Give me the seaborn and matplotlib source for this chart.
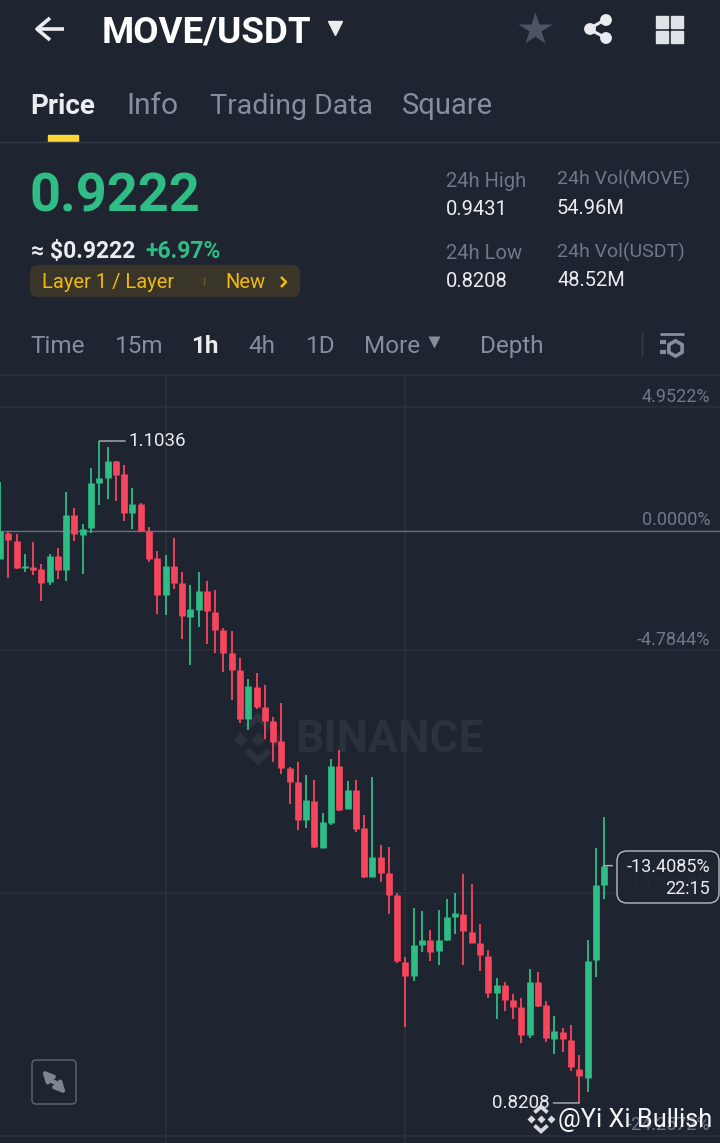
import pandas as pd
import numpy as np
import matplotlib
matplotlib.use("Agg")
import matplotlib.pyplot as plt
from matplotlib.patches import FancyBboxPatch, Rectangle, Circle
import seaborn as sns

# candles, oldest first
opens = [1.0532,1.0643,1.0609,1.0493,1.0498,1.0489,1.0434,1.0545,1.0485,1.0720,
         1.0635,1.0664,1.0857,1.0878,1.0951,1.0895,1.0729,1.0767,1.0652,1.0536,
         1.0378,1.0502,1.0429,1.0284,1.0314,1.0395,1.0305,1.0229,1.0130,1.0058,
         0.9848,0.9985,0.9900,0.9840,0.9754,0.9639,0.9579,0.9417,0.9498,0.9297,
         0.9404,0.9648,0.9464,0.9545,0.9383,0.9174,0.9259,0.9191,0.9097,0.8810,
         0.8751,0.8883,0.8904,0.8857,0.8904,0.9003,0.9015,0.8939,0.8892,0.8836,
         0.8678,0.8712,0.8648,0.8618,0.8498,0.8725,0.8627,0.8481,0.8511,0.8477,
         0.8353,0.8315,0.8819,0.9139]
highs = [1.0861,1.0652,1.0639,1.0553,1.0605,1.0510,1.0553,1.0579,1.0818,1.0750,
         1.0682,1.0921,1.1036,1.1011,1.0951,1.0934,1.0835,1.0771,1.0669,1.0566,
         1.0549,1.0622,1.0476,1.0421,1.0476,1.0438,1.0400,1.0237,1.0224,1.0109,
         1.0019,1.0045,0.9994,0.9857,0.9917,0.9643,0.9665,0.9609,0.9588,0.9447,
         0.9678,0.9716,0.9584,0.9588,0.9438,0.9601,0.9310,0.9302,0.9105,0.8832,
         0.9041,0.9028,0.8947,0.9033,0.9079,0.9105,0.9186,0.9144,0.8973,0.8862,
         0.8742,0.8725,0.8674,0.8657,0.8780,0.8768,0.8644,0.8580,0.8528,0.8541,
         0.8413,0.8904,0.9297,0.9431]
lows = [1.0532,1.0451,1.0489,1.0476,1.0463,1.0352,1.0421,1.0446,1.0438,1.0609,
        1.0468,1.0643,1.0763,1.0788,1.0780,1.0694,1.0660,1.0652,1.0519,1.0297,
        1.0293,1.0404,1.0190,1.0079,1.0241,1.0169,1.0130,1.0049,0.9930,0.9831,
        0.9801,0.9891,0.9763,0.9665,0.9613,0.9485,0.9374,0.9383,0.9297,0.9297,
        0.9396,0.9456,0.9464,0.9366,0.9169,0.9174,0.9152,0.9015,0.8806,0.8533,
        0.8729,0.8853,0.8815,0.8798,0.8900,0.8930,0.8798,0.8892,0.8772,0.8657,
        0.8567,0.8601,0.8567,0.8464,0.8486,0.8618,0.8468,0.8417,0.8426,0.8345,
        0.8208,0.8255,0.8746,0.9079]
closes = [1.0652,1.0613,1.0493,1.0502,1.0485,1.0429,1.0545,1.0485,1.0720,1.0639,
          1.0660,1.0857,1.0878,1.0951,1.0891,1.0729,1.0767,1.0652,1.0532,1.0378,
          1.0502,1.0429,1.0288,1.0318,1.0395,1.0310,1.0229,1.0130,1.0058,0.9848,
          0.9989,0.9900,0.9840,0.9750,0.9639,0.9579,0.9417,0.9503,0.9302,0.9408,
          0.9648,0.9460,0.9545,0.9379,0.9174,0.9259,0.9191,0.9097,0.8815,0.8751,
          0.8883,0.8904,0.8853,0.8904,0.9003,0.9020,0.8943,0.8892,0.8840,0.8678,
          0.8712,0.8648,0.8618,0.8498,0.8725,0.8622,0.8486,0.8515,0.8481,0.8362,
          0.8323,0.8815,0.9139,0.9222]

base_price = 1.0652
pct_levels = [4.9522, 0.0, -4.7844, -14.5208, -24.2572]
pct_labels = ["4.9522%", "0.0000%", "-4.7844%", "-14.5208%", "-24.2572%"]
time_grid = [20, 49]

BG = "#1f2530"
GREEN = "#2ebd85"
RED = "#f6465d"
GREY = "#848e9c"
DIM = "#6f7886"
WHITE = "#eaecef"
MARK = "#2c323d"

sns.set_theme(style="dark", rc={"lines.solid_capstyle": "butt", "axes.facecolor": BG, "figure.facecolor": BG})
plt.rcParams["font.family"] = ["Roboto", "DejaVu Sans"]

idx = np.arange(len(opens))
df = pd.DataFrame({"idx": idx, "open": opens, "high": highs, "low": lows, "close": closes})
df["side"] = np.where(df["close"] >= df["open"], "up", "down")
wicks = df.melt(id_vars=["idx", "side"], value_vars=["high", "low"], value_name="price")
bodies = df.melt(id_vars=["idx", "side"], value_vars=["open", "close"], value_name="price")
colors = {"up": GREEN, "down": RED}

fig = plt.figure(figsize=(7.2, 11.43), dpi=100)
ax = fig.add_axes([0, 0, 1, 768 / 1143])
ui = fig.add_axes([0, 0, 1, 1], zorder=5)
ui.set_xlim(0, 720)
ui.set_ylim(1143, 0)
ui.axis("off")
ui.patch.set_alpha(0)


def draw_logo(target, cx, cy, size, color, zorder):
    # two chevrons and three small diamonds, size is half the logo height
    s = size
    kw = dict(color=color, lw=s * 0.21, transform=ui.transData, zorder=zorder, clip_on=False, solid_joinstyle="miter")
    target.plot([cx - 0.5 * s, cx, cx + 0.5 * s], [cy - 0.5 * s, cy - s * 0.95, cy - 0.5 * s], **kw)
    target.plot([cx - 0.5 * s, cx, cx + 0.5 * s], [cy + 0.5 * s, cy + s * 0.95, cy + 0.5 * s], **kw)
    for dx in [-0.8 * s, 0, 0.8 * s]:
        target.plot(cx + dx, cy, marker="D", ms=s * 0.3, color=color, mec="none", transform=ui.transData,
                    zorder=zorder, clip_on=False)


# watermark goes under the candles
ax.text(389, 740, "BINANCE", color=MARK, fontsize=32, fontweight="bold", ha="center", va="center",
        transform=ui.transData, zorder=0)
draw_logo(ax, 258, 739, 23, MARK, 0)

for frame, lw in [(wicks, 1.3), (bodies, 4.8)]:
    sns.lineplot(data=frame, x="idx", y="price", units="idx", hue="side", palette=colors, estimator=None,
                 errorbar=None, lw=lw, legend=False, ax=ax, zorder=3)

ax.set_xlim(0, 720 / 8.275)
ax.set_ylim(0.8037, 1.1318)
ax.set_xticks(time_grid)
ax.set_yticks([base_price * (1 + p / 100) for p in pct_levels])
ax.tick_params(length=0, labelbottom=False, labelleft=False)
ax.set_xlabel("")
ax.set_ylabel("")
ax.grid(True, color="#2b313c", lw=1.2)
for name, spine in ax.spines.items():
    spine.set_visible(name == "top")
    spine.set_color("#2b313c")
ax.axhline(base_price, color="#686e78", lw=1, zorder=2)

for level, lab in zip(pct_levels, pct_labels):
    ax.annotate(lab, xy=(1, base_price * (1 + level / 100)), xycoords=ax.get_yaxis_transform(),
                xytext=(-7, 7.5), textcoords="offset points", ha="right", va="center",
                color=DIM, fontsize=13)

ax.annotate("1.1036", xy=(int(np.argmax(highs)), max(highs)), xytext=(21, 0), textcoords="offset points",
            va="center", color=WHITE, fontsize=13.5, arrowprops=dict(arrowstyle="-", color="#b0b5bc", lw=1, shrinkA=0, shrinkB=0))
ax.annotate("0.8208", xy=(int(np.argmin(lows)), min(lows)), xytext=(-21, 0), textcoords="offset points",
            va="center", ha="right", color=WHITE, fontsize=13.5, arrowprops=dict(arrowstyle="-", color="#b0b5bc", lw=1, shrinkA=0, shrinkB=0))
ax.annotate("", xy=(len(closes) - 1, closes[-1]), xytext=(9, 0), textcoords="offset points",
            arrowprops=dict(arrowstyle="-", color="#b0b5bc", lw=1, shrinkA=3, shrinkB=0))


def label(x, y, s, size, color=GREY, weight="normal", ha="left"):
    ui.text(x, y + 1.5, s, fontsize=size, color=color, fontweight=weight, ha=ha, va="center")


# header
ui.plot([37, 64], [29, 29], color=WHITE, lw=2.6)
ui.plot([50, 37, 50], [18, 29, 40], color=WHITE, lw=2.6)
label(102, 31, "MOVE/USDT", 26.5, "white", "bold")
ui.plot(335, 28, marker="v", ms=10, color=WHITE)
ui.plot(535, 29, marker="*", ms=25, color="#4c5462", mec="none")
for sx, sy in [(606, 19), (606, 38)]:
    ui.plot([589, sx], [29, sy], color=WHITE, lw=2.2)
for sx, sy in [(590, 29), (606, 20), (606, 38)]:
    ui.add_patch(Circle((sx, sy), 5.2, color=WHITE))
for sx in [656, 671]:
    for sy in [16, 31]:
        ui.add_patch(Rectangle((sx, sy), 12, 12, color="#dfe2e6"))

# tabs
label(30, 105, "Price", 20, WHITE, "bold")
label(126, 105, "Info", 21.5)
label(210, 105, "Trading Data", 20.5)
label(402, 105, "Square", 21)
ui.add_patch(Rectangle((48, 135), 30, 6, color="#fcd535"))
ui.plot([0, 720], [141.5, 141.5], color="#353b46", lw=1)

# price block
label(30, 195, "0.9222", 39, GREEN, "bold")
label(31, 250, "≈ $0.9222", 16.5, WHITE, "bold")
label(145, 250, "+6.97%", 16.5, GREEN, "bold")
ui.add_patch(FancyBboxPatch((36, 271), 258, 20, boxstyle="round,pad=6,rounding_size=8", fc="#3a3529", ec="none"))
label(42, 281, "Layer 1 / Layer", 14.5, "#f0b90b")
ui.plot([204, 204], [277, 285], color="#6b5a22", lw=1)
label(225, 281, "New", 14.5, "#f0b90b")
ui.plot([281, 286, 281], [277, 282, 287], color="#f0b90b", lw=1.8)

label(446, 180, "24h High", 14.5, DIM)
label(446, 208, "0.9431", 14.5, WHITE)
label(446, 252, "24h Low", 14.5, DIM)
label(446, 280, "0.8208", 14.5, WHITE)
label(557, 178, "24h Vol(MOVE)", 14, DIM)
label(557, 207, "54.96M", 14.5, WHITE)
label(557, 251, "24h Vol(USDT)", 14, DIM)
label(557, 279, "48.52M", 14.5, WHITE)

# interval row
for tx, txt in [(30, "Time"), (115, "15m"), (248, "4h"), (306, "1D"), (364, "More"), (480, "Depth")]:
    label(tx, 345, txt, 17.5)
label(191, 345, "1h", 17.5, WHITE, "bold")
ui.plot(434, 342, marker="v", ms=8, color=GREY, mec="none")
ui.plot([642, 642], [332, 356], color="#3a404b", lw=1)
ui.plot([660, 684], [334, 334], color=GREY, lw=2)
ui.plot([660, 666], [342, 342], color=GREY, lw=3)
ui.plot([660, 666], [352, 352], color=GREY, lw=3)
ui.plot(675, 348, marker="h", ms=11, mfc="none", mec=GREY, mew=2.6)

# current price tag
ui.add_patch(FancyBboxPatch((623, 857), 90, 40, boxstyle="round,pad=6,rounding_size=10", fc=BG, ec="#c4c8ce", lw=1, alpha=0.93))
label(710, 865, "-13.4085%", 13, WHITE, ha="right")
label(710, 887, "22:15", 13, WHITE, ha="right")

# expand button
ui.add_patch(FancyBboxPatch((36, 1064), 36, 36, boxstyle="round,pad=4,rounding_size=4", fc="none", ec="#5e6673", lw=1))
for start, end in [((53, 1082), (42, 1070)), ((55, 1082), (66, 1094))]:
    ui.annotate("", xy=end, xytext=start, arrowprops=dict(arrowstyle="-|>", color="#7d8591", lw=3, shrinkA=0, shrinkB=0, mutation_scale=15))

# credit overlay
draw_logo(ui, 541, 1119, 13, "#d8dade", 6)
label(558, 1118.5, "@Yi Xi Bullish", 18.3, "#f4f5f6")

fig.savefig("out.png", dpi=100, facecolor=BG)
